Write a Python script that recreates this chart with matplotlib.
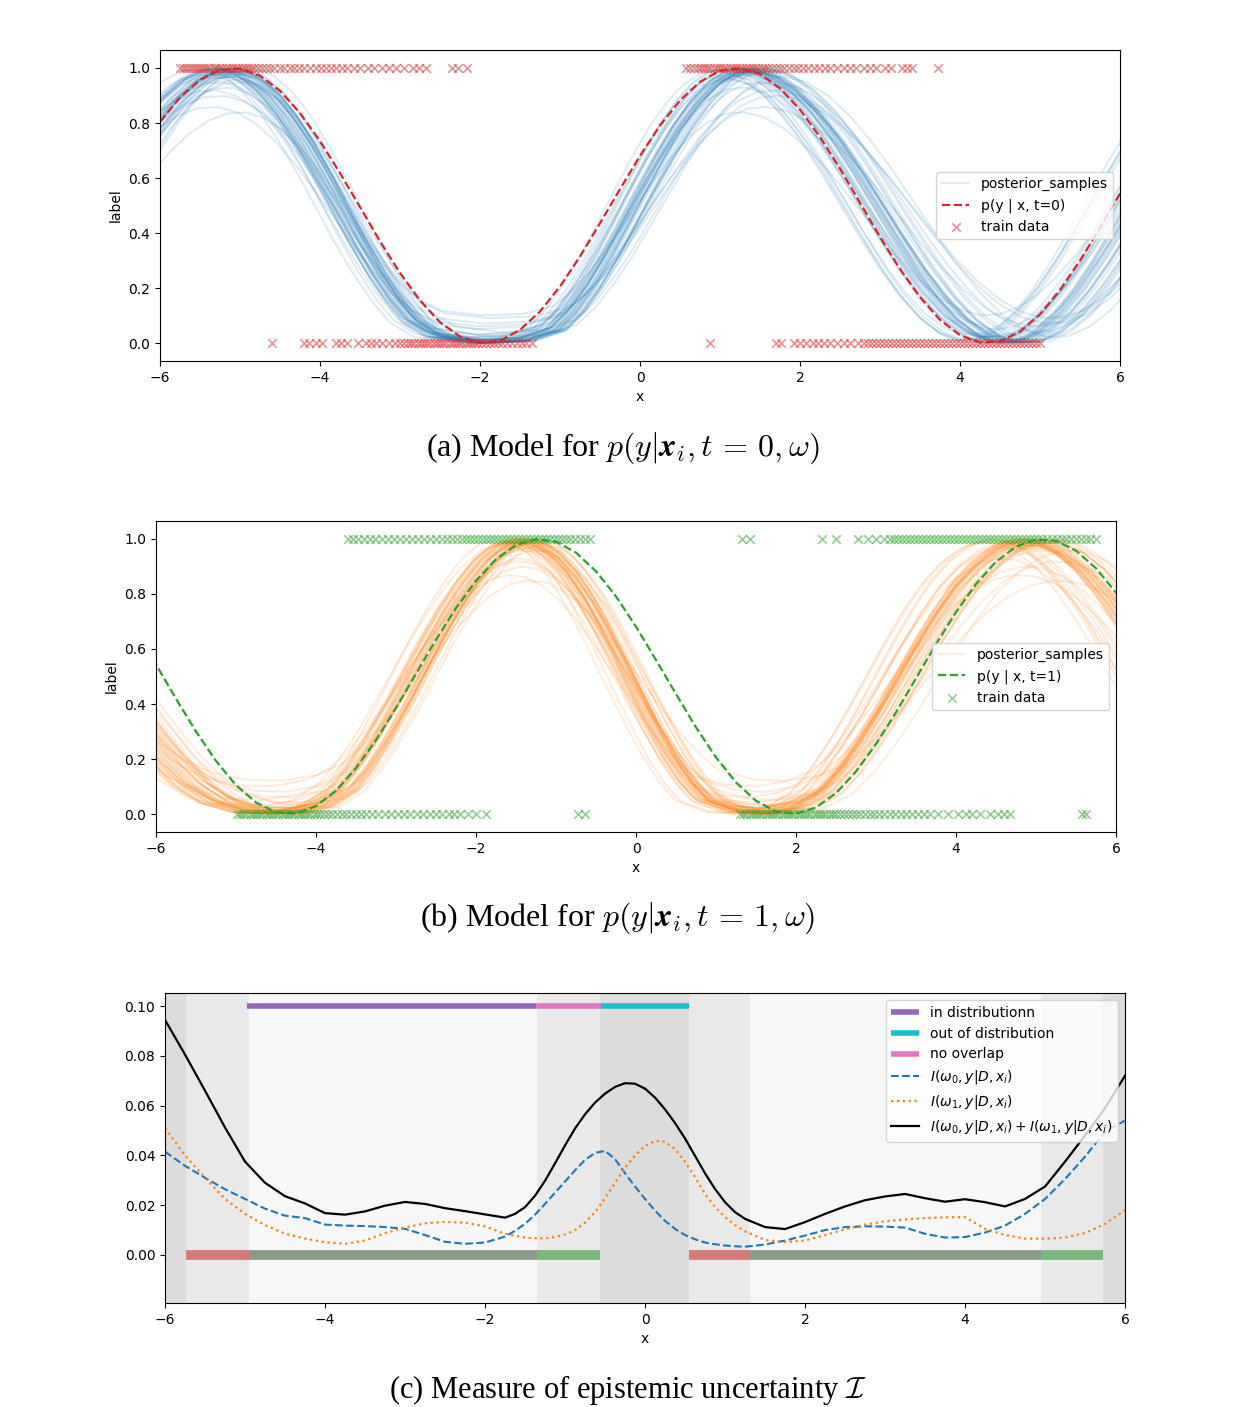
import numpy as np
import matplotlib
matplotlib.use("Agg")
from matplotlib import pyplot as plt

plt.rcParams.update({"font.size": 10})

# ---------------- predictive curves p(y | x, t) on a fixed grid ----------------
xs = np.linspace(-7, 7, 57)
p_t0 = [0.330, 0.452, 0.577, 0.697, 0.804, 0.893, 0.957, 0.993, 0.998, 0.972,
        0.917, 0.836, 0.734, 0.618, 0.494, 0.370, 0.255, 0.155, 0.076, 0.024,
        0.001, 0.009, 0.048, 0.115, 0.206, 0.315, 0.436, 0.560, 0.681, 0.791,
        0.882, 0.950, 0.990, 0.999, 0.978, 0.926, 0.848, 0.749, 0.634, 0.510,
        0.386, 0.269, 0.167, 0.085, 0.029, 0.002, 0.006, 0.042, 0.105, 0.193,
        0.300, 0.419, 0.544, 0.666, 0.777, 0.872, 0.943]
p_t1 = [0.943, 0.872, 0.777, 0.666, 0.544, 0.419, 0.300, 0.193, 0.105, 0.042,
        0.006, 0.002, 0.029, 0.085, 0.167, 0.269, 0.386, 0.510, 0.634, 0.749,
        0.848, 0.926, 0.978, 0.999, 0.990, 0.950, 0.882, 0.791, 0.681, 0.560,
        0.436, 0.315, 0.206, 0.115, 0.048, 0.009, 0.001, 0.024, 0.076, 0.155,
        0.255, 0.370, 0.494, 0.618, 0.734, 0.836, 0.917, 0.972, 0.998, 0.993,
        0.957, 0.893, 0.804, 0.697, 0.577, 0.452, 0.330]

# where the posterior band sits relative to p(y|x,t) (matching x positions)
band_a_in = [-7.5, -5.1, -2.3, -1.6, 1.2, 4.3, 7.5]
band_a_out = [-7.6, -5.2, -2.66, -1.19, 1.3, 4.5, 7.7]
band_b_in = [-7.5, -4.8, -3.9, -2.0, -0.4, 1.5, 2.4, 4.3, 7.5]
band_b_out = [-8.6, -5.3, -3.8, -2.1, -0.75, 0.85, 2.2, 4.05, 7.4]

# per posterior sample: shift, stretch, top and bottom level
shift_a = [-0.3, -0.22, -0.17, -0.13, -0.1, -0.08, -0.06, -0.05, -0.03, -0.02,
           -0.01, 0.0, 0.0, 0.01, 0.02, 0.03, 0.04, 0.05, 0.06, 0.07,
           0.08, 0.1, 0.12, 0.14, 0.16, 0.19, 0.22, 0.26, -0.04, 0.09,
           -0.12, 0.1, -0.07, 0.13, -0.09, 0.06, 0.11, -0.14, 0.08, -0.05,
           0.15, -0.11, 0.07, -0.06, 0.12]
stretch_a = [0.02, -0.03, 0.05, 0.0, -0.04, 0.03, 0.06, -0.02, 0.01, 0.04,
             -0.05, 0.02, -0.01, 0.05, -0.03, 0.0, 0.07, -0.02, 0.03, -0.06,
             0.01, 0.04, -0.04, 0.02, 0.06, -0.01, 0.03, -0.03, 0.08, -0.07,
             0.02, -0.03, 0.01, -0.02, 0.03, -0.01, 0.02, 0.0, -0.03, 0.03,
             -0.02, 0.01, 0.0, 0.02, -0.01]
top_a = [1.0, 0.99, 0.98, 1.0, 0.97, 0.99, 0.86, 1.0, 0.98, 0.95,
         1.0, 0.99, 0.93, 1.0, 0.97, 0.99, 0.9, 1.0, 0.98, 0.96,
         1.0, 0.99, 0.84, 1.0, 0.97, 0.99, 0.95, 1.0, 0.92, 0.98,
         1.0, 0.99, 1.0, 0.98, 1.0, 0.99, 1.0, 0.98, 1.0, 0.99,
         1.0, 0.98, 0.99, 1.0, 0.99]
bottom_a = [0.0, 0.01, 0.0, 0.02, 0.0, 0.01, 0.06, 0.0, 0.03, 0.0,
            0.01, 0.0, 0.05, 0.0, 0.02, 0.0, 0.09, 0.01, 0.0, 0.03,
            0.0, 0.01, 0.1, 0.0, 0.02, 0.0, 0.04, 0.0, 0.07, 0.01,
            0.0, 0.01, 0.0, 0.0, 0.01, 0.0, 0.0, 0.02, 0.0, 0.0,
            0.01, 0.0, 0.0, 0.01, 0.0]

shift_b = [-0.3, -0.24, -0.18, -0.14, -0.11, -0.08, -0.06, -0.04, -0.03, -0.02,
           -0.01, 0.0, 0.0, 0.01, 0.02, 0.03, 0.05, 0.06, 0.08, 0.1,
           0.12, 0.15, 0.18, 0.22, 0.27, -0.05, 0.04, -0.15, 0.09, 0.2,
           0.11, -0.12, 0.07, -0.08, 0.14, -0.05, 0.09, -0.13, 0.06, -0.1,
           0.13, -0.07, 0.1, -0.04, 0.08]
stretch_b = [-0.02, 0.04, -0.05, 0.01, 0.03, -0.03, 0.05, 0.0, -0.04, 0.02,
             0.06, -0.01, 0.03, -0.06, 0.0, 0.04, -0.02, 0.01, -0.05, 0.05,
             -0.03, 0.02, 0.06, -0.04, 0.0, 0.07, -0.07, 0.03, -0.01, 0.02,
             -0.02, 0.03, 0.0, 0.02, -0.03, 0.01, -0.01, 0.02, 0.03, -0.02,
             0.0, 0.01, -0.03, 0.02, -0.01]
top_b = [1.0, 0.98, 0.99, 0.87, 1.0, 0.97, 0.99, 1.0, 0.93, 0.98,
         1.0, 0.99, 0.96, 1.0, 0.9, 0.99, 1.0, 0.97, 0.98, 0.85,
         1.0, 0.99, 0.96, 1.0, 0.98, 0.92, 1.0, 0.99, 0.97, 1.0,
         0.99, 1.0, 0.98, 1.0, 0.99, 1.0, 0.98, 0.99, 1.0, 0.99,
         1.0, 0.98, 1.0, 0.99, 1.0]
bottom_b = [0.0, 0.02, 0.0, 0.1, 0.01, 0.0, 0.03, 0.0, 0.06, 0.01,
            0.0, 0.02, 0.0, 0.01, 0.08, 0.0, 0.02, 0.0, 0.04, 0.12,
            0.0, 0.01, 0.0, 0.03, 0.0, 0.05, 0.01, 0.0, 0.02, 0.0,
            0.01, 0.0, 0.0, 0.02, 0.0, 0.01, 0.0, 0.0, 0.01, 0.0,
            0.0, 0.01, 0.0, 0.0, 0.02]

# ---------------- training data (x positions, label 1 / label 0) ----------------
x1_t0 = [-5.75, -5.71, -5.68, -5.64, -5.6, -5.56, -5.52, -5.49, -5.45, -5.41,
         -5.37, -5.33, -5.3, -5.26, -5.22, -5.18, -5.14, -5.1, -5.06, -5.02,
         -4.98, -4.94, -4.9, -4.86, -4.82, -4.78, -4.73, -4.68, -4.62, -4.57,
         -4.5, -4.45, -4.38, -4.33, -4.26, -4.2, -4.12, -4.05, -3.99, -3.93,
         -3.86, -3.8, -3.72, -3.66, -3.58, -3.5, -3.4, -3.33, -3.22, -3.14,
         -3.05, -2.95, -2.84, -2.76, -2.68, -2.35, -2.28, -2.16,
         0.58, 0.63, 0.67, 0.72, 0.76, 0.8, 0.84, 0.88, 0.92, 0.96,
         1.0, 1.04, 1.08, 1.12, 1.16, 1.2, 1.24, 1.28, 1.32, 1.36,
         1.4, 1.44, 1.48, 1.52, 1.56, 1.6, 1.65, 1.7, 1.75, 1.8,
         1.86, 1.92, 1.98, 2.04, 2.1, 2.17, 2.24, 2.31, 2.38, 2.46,
         2.55, 2.62, 2.7, 2.8, 2.88, 2.95, 3.06, 3.14, 3.28, 3.34, 3.4, 3.72]
x0_t0 = [-4.6, -4.2, -4.14, -4.05, -3.97, -3.8, -3.74, -3.66,
         -3.52, -3.43, -3.36, -3.3, -3.22, -3.14, -3.06, -3.0, -2.95, -2.9,
         -2.86, -2.82, -2.78, -2.74, -2.7, -2.66, -2.62, -2.58, -2.54, -2.5,
         -2.46, -2.42, -2.38, -2.34, -2.3, -2.26, -2.22, -2.18, -2.14, -2.1,
         -2.06, -2.02, -1.98, -1.93, -1.88, -1.83, -1.78, -1.72, -1.66, -1.6,
         -1.54, -1.48, -1.42, -1.35,
         0.88, 1.7, 1.76, 1.93, 2.0, 2.08, 2.16, 2.23, 2.3, 2.38, 2.46, 2.55,
         2.62, 2.72, 2.8, 2.85, 2.9, 2.95, 3.0, 3.05, 3.1, 3.15, 3.2, 3.25,
         3.3, 3.35, 3.4, 3.45, 3.5, 3.55, 3.6, 3.65, 3.7, 3.75, 3.8, 3.85,
         3.9, 3.95, 4.0, 4.05, 4.1, 4.15, 4.2, 4.25, 4.3, 4.35, 4.4, 4.45,
         4.5, 4.55, 4.6, 4.65, 4.7, 4.75, 4.8, 4.85, 4.9, 4.95, 5.0]
x1_t1 = [-3.6, -3.54, -3.47, -3.4, -3.33, -3.26, -3.18, -3.1, -3.02, -2.95,
         -2.88, -2.8, -2.72, -2.65, -2.58, -2.5, -2.42, -2.36, -2.3, -2.24,
         -2.18, -2.12, -2.07, -2.02, -1.97, -1.92, -1.87, -1.82, -1.77, -1.72,
         -1.67, -1.62, -1.57, -1.52, -1.47, -1.42, -1.37, -1.32, -1.27, -1.22,
         -1.17, -1.12, -1.07, -1.02, -0.97, -0.92, -0.87, -0.82, -0.76, -0.7,
         -0.64, -0.58,
         1.32, 1.42, 2.32, 2.5, 2.78, 2.9, 3.0, 3.1, 3.18, 3.23,
         3.28, 3.33, 3.38, 3.43, 3.48, 3.53, 3.58, 3.63, 3.68, 3.73,
         3.78, 3.83, 3.88, 3.93, 3.98, 4.03, 4.08, 4.13, 4.18, 4.23,
         4.28, 4.33, 4.38, 4.43, 4.48, 4.53, 4.58, 4.63, 4.68, 4.73,
         4.78, 4.83, 4.88, 4.93, 4.98, 5.03, 5.08, 5.14, 5.2, 5.26,
         5.32, 5.38, 5.44, 5.5, 5.56, 5.62, 5.68, 5.75]
x0_t1 = [-4.99, -4.95, -4.91, -4.87, -4.83, -4.79, -4.75, -4.71, -4.67, -4.63,
         -4.59, -4.55, -4.51, -4.47, -4.43, -4.39, -4.35, -4.31, -4.27, -4.23,
         -4.19, -4.15, -4.11, -4.07, -4.03, -3.99, -3.95, -3.9, -3.85, -3.8,
         -3.74, -3.68, -3.62, -3.56, -3.5, -3.44, -3.37, -3.3, -3.22, -3.14,
         -3.06, -2.98, -2.9, -2.82, -2.74, -2.66, -2.58, -2.5, -2.42, -2.34,
         -2.27, -2.2, -2.1, -2.0, -1.87, -0.72, -0.64,
         1.3, 1.34, 1.38, 1.42, 1.46, 1.5, 1.54, 1.58, 1.62, 1.66,
         1.7, 1.74, 1.78, 1.82, 1.86, 1.9, 1.94, 1.98, 2.02, 2.06,
         2.1, 2.14, 2.18, 2.22, 2.26, 2.3, 2.34, 2.38, 2.42, 2.46,
         2.5, 2.55, 2.6, 2.65, 2.7, 2.75, 2.8, 2.86, 2.92, 2.98,
         3.04, 3.1, 3.17, 3.24, 3.31, 3.38, 3.45, 3.52, 3.6, 3.68,
         3.78, 3.9, 4.02, 4.12, 4.2, 4.3, 4.42, 4.52, 4.6, 4.68, 5.57, 5.62]

# ---------------- epistemic uncertainty curves ----------------
xc = np.concatenate([np.linspace(-6, -2, 17), np.linspace(-1.75, 1.25, 25),
                     np.linspace(1.5, 6, 19)])
info_w0 = [0.0415, 0.0358, 0.0310, 0.0264, 0.0225, 0.0186, 0.0158, 0.0148, 0.0122,
           0.0118, 0.0116, 0.0112, 0.0105, 0.0080, 0.0053, 0.0045, 0.0050,
           0.0074, 0.0097, 0.0125, 0.0162, 0.0205, 0.0250, 0.0295, 0.0340, 0.0382,
           0.0410, 0.0418, 0.0385, 0.0328, 0.0275, 0.0225, 0.0178, 0.0137, 0.0105,
           0.0080, 0.0063, 0.0050, 0.0043, 0.0038, 0.0035, 0.0033,
           0.0042, 0.0058, 0.0078, 0.0100, 0.0112, 0.0115, 0.0114, 0.0110, 0.0085,
           0.0070, 0.0072, 0.0090, 0.0118, 0.0165, 0.0225, 0.0305, 0.0395, 0.0495, 0.0540]
info_w1 = [0.0510, 0.0400, 0.0310, 0.0225, 0.0165, 0.0120, 0.0085, 0.0066, 0.0051,
           0.0045, 0.0058, 0.0088, 0.0110, 0.0127, 0.0133, 0.0130, 0.0115,
           0.0085, 0.0077, 0.0070, 0.0067, 0.0067, 0.0072, 0.0082, 0.0100, 0.0130,
           0.0172, 0.0228, 0.0290, 0.0350, 0.0400, 0.0438, 0.0458, 0.0455, 0.0425,
           0.0375, 0.0312, 0.0245, 0.0193, 0.0152, 0.0120, 0.0095,
           0.0060, 0.0052, 0.0058, 0.0080, 0.0103, 0.0122, 0.0135, 0.0143, 0.0148,
           0.0151, 0.0152, 0.0105, 0.0080, 0.0066, 0.0065, 0.0070, 0.0088, 0.0125, 0.0180]
info_sum = [0.0944, 0.0805, 0.0660, 0.0512, 0.0375, 0.0290, 0.0236, 0.0207, 0.0168,
            0.0162, 0.0175, 0.0198, 0.0213, 0.0205, 0.0188, 0.0176, 0.0163,
            0.0150, 0.0165, 0.0192, 0.0238, 0.0298, 0.0368, 0.0440, 0.0508, 0.0565,
            0.0612, 0.0648, 0.0675, 0.0690, 0.0688, 0.0668, 0.0632, 0.0585, 0.0530,
            0.0468, 0.0398, 0.0328, 0.0265, 0.0212, 0.0172, 0.0145,
            0.0112, 0.0104, 0.0132, 0.0165, 0.0195, 0.0220, 0.0235, 0.0245, 0.0228,
            0.0214, 0.0224, 0.0212, 0.0195, 0.0225, 0.0275, 0.0375, 0.0480, 0.0590, 0.0720]

# region edges and kind (0 outside both, 1 one support, 2 both supports)
region_edges = [-6, -5.74, -4.95, -1.35, -0.56, 0.55, 1.31, 4.95, 5.73, 6]
region_kind = [0, 1, 2, 1, 0, 1, 2, 1, 0]
region_shade = {0: "#dcdcdc", 1: "#e9e9e9", 2: "#f7f7f7"}
# bars at y=0: which training set covers the region
cover_edges = [(-5.74, -4.95), (-4.95, -1.35), (-1.35, -0.56),
               (0.55, 1.31), (1.31, 4.95), (4.95, 5.73)]
cover_kind = ["t0", "both", "t1", "t0", "both", "t1"]
cover_color = {"t0": "#d67a78", "both": "#8b9a89", "t1": "#79b879"}
# bars at y=0.1
tag_names = ["in distributionn", "out of distribution", "no overlap"]
tag_spans = [(-4.97, -1.36), (-0.55, 0.55), (-1.36, -0.55)]
tag_colors = ["tab:purple", "tab:cyan", "tab:pink"]

fig = plt.figure(figsize=(12.52, 14.07), dpi=100)


def posterior_panel(ax, p, b_in, b_out, c, shifts, stretches, tops, bottoms,
                    col, dcol, lab, x1, x0):
    p = np.array(p)
    xb = np.interp(xs, b_in, b_out)
    for k in range(len(shifts)):
        xk = xb + shifts[k] + stretches[k] * (xb - c)
        yk = bottoms[k] + (tops[k] - bottoms[k]) * p
        ax.plot(xk, yk, color=col, alpha=0.15, lw=1.4,
                label="posterior_samples" if k == 0 else None)
    ax.plot(xs, p, "--", color=dcol, lw=1.6, label=lab)
    ax.scatter(x1 + x0, [1.0] * len(x1) + [0.0] * len(x0), marker="x",
               color=dcol, alpha=0.5, s=38, linewidths=1.2, label="train data", zorder=3)
    ax.set_xlim(-6, 6)
    ax.set_ylim(-0.065, 1.065)
    ax.set_xticks([-6, -4, -2, 0, 2, 4, 6])
    ax.set_yticks([0.0, 0.2, 0.4, 0.6, 0.8, 1.0])
    ax.set_xlabel("x")
    ax.set_ylabel("label")
    ax.legend(loc="center right", fontsize=10)


ax1 = fig.add_axes([0.1278, 0.7434, 0.7668, 0.2210])
posterior_panel(ax1, p_t0, band_a_in, band_a_out, -3.5, shift_a, stretch_a,
                top_a, bottom_a, "tab:blue", "tab:red", "p(y | x, t=0)", x1_t0, x0_t0)

ax2 = fig.add_axes([0.1246, 0.4087, 0.7668, 0.2210])
posterior_panel(ax2, p_t1, band_b_in, band_b_out, -1.5, shift_b, stretch_b,
                top_b, bottom_b, "tab:orange", "tab:green", "p(y | x, t=1)", x1_t1, x0_t1)

ax3 = fig.add_axes([0.1318, 0.0739, 0.7668, 0.2203])
for i, kind in enumerate(region_kind):
    ax3.axvspan(region_edges[i], region_edges[i + 1], color=region_shade[kind], lw=0, zorder=0)
for (a, b), kind in zip(cover_edges, cover_kind):
    ax3.plot([a, b], [0, 0], color=cover_color[kind], lw=7, solid_capstyle="butt", zorder=2)
for name, (a, b), col in zip(tag_names, tag_spans, tag_colors):
    ax3.plot([a, b], [0.1, 0.1], color=col, lw=4, solid_capstyle="butt", label=name, zorder=2)
ax3.plot(xc, info_w0, "--", color="tab:blue", lw=1.5, label=r"$I(\omega_0, y|D, x_i)$")
ax3.plot(xc, info_w1, ":", color="tab:orange", lw=1.6, label=r"$I(\omega_1, y|D, x_i)$")
ax3.plot(xc, info_sum, "-", color="black", lw=1.6,
         label=r"$I(\omega_0, y|D, x_i) + I(\omega_1, y|D, x_i)$")
ax3.set_xlim(-6, 6)
ax3.set_ylim(-0.0193, 0.1052)
ax3.set_xticks([-6, -4, -2, 0, 2, 4, 6])
ax3.set_yticks([0.0, 0.02, 0.04, 0.06, 0.08, 0.10])
ax3.set_xlabel("x")
ax3.legend(loc="upper right", fontsize=10)

cap = dict(ha="center", va="center", fontsize=23, family="Liberation Serif", math_fontfamily="cm")
fig.text(623 / 1252, 1 - 448 / 1407, r"(a) Model for $p(y|\mathbfit{x}_i, t\,=\,0, \omega)$", **cap)
fig.text(618 / 1252, 1 - 918 / 1407, r"(b) Model for $p(y|\mathbfit{x}_i, t\,=\,1, \omega)$", **cap)
fig.text(628 / 1252, 1 - 1390 / 1407, r"(c) Measure of epistemic uncertainty $\mathcal{I}$",
         **dict(cap, fontsize=22))

fig.savefig("out.png", dpi=100)
